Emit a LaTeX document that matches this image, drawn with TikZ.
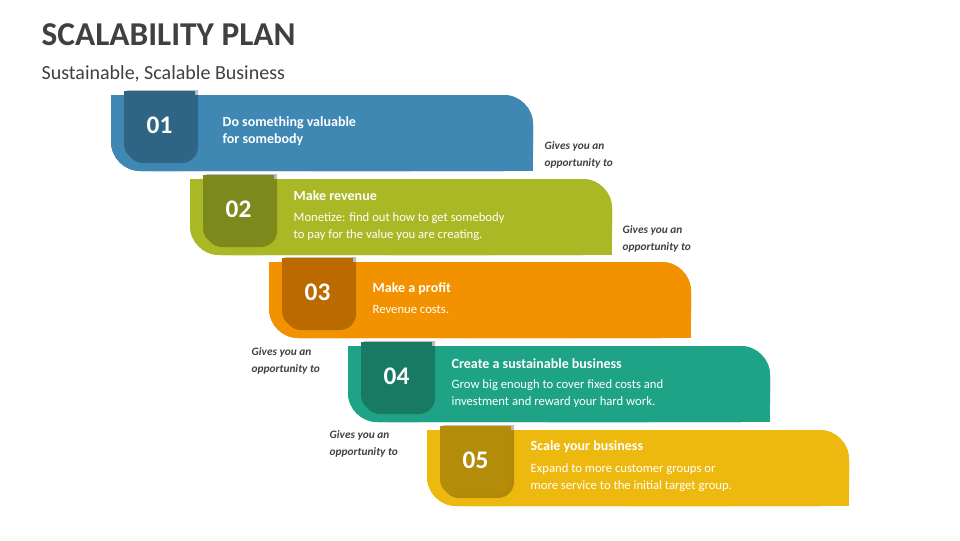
\documentclass[tikz,border=0pt]{standalone}
\usepackage{fontspec}
\setmainfont{Carlito}
\definecolor{c1}{HTML}{3F88B3}\definecolor{d1}{HTML}{2E6585}
\definecolor{c2}{HTML}{A9B824}\definecolor{d2}{HTML}{7C8A1D}
\definecolor{c3}{HTML}{F39200}\definecolor{d3}{HTML}{BB6A00}
\definecolor{c4}{HTML}{1FA386}\definecolor{d4}{HTML}{187A63}
\definecolor{c5}{HTML}{EEB90F}\definecolor{d5}{HTML}{B38C0A}
\definecolor{tt}{HTML}{404040}
\tikzset{
 numtxt/.style={text=white,font=\bfseries\fontsize{19}{19}\selectfont},
 head/.style={text=white,font=\bfseries\fontsize{10.5}{13}\selectfont,anchor=west,align=left},
 body/.style={text=white,font=\fontsize{9.5}{13}\selectfont,anchor=north west,align=left},
 gives/.style={text=tt,font=\bfseries\itshape\fontsize{8.5}{12.5}\selectfont,anchor=north west,align=left}
}
\newcommand{\band}[4]{% x y light dark
 \fill[#3,rounded corners=22pt] (#1,#2) -- (#1+422,#2) |- (#1+422,#2+76) -- (#1,#2+76) -- (#1,#2) ;
 \fill[#3] (#1,#2) -- (#1+300,#2) -- (#1+300,#2+76) -- (#1+40,#2+76) -- (#1,#2+40) --cycle;
 \fill[#3,rounded corners=22pt] (#1+200,#2) -- (#1+422,#2) -- (#1+422,#2+76) -- (#1+200,#2+76);
 \fill[#3,rounded corners=22pt] (#1,#2) -- (#1,#2+76) -- (#1+100,#2+76) -- (#1+100,#2);
 \fill[#3] (#1,#2) rectangle (#1+100,#2+30);
 \fill[#3] (#1+300,#2+40) rectangle (#1+422,#2+76);
 \fill[black,opacity=0.25,rounded corners=12pt] (#1+16,#2-5) -- (#1+16,#2+68) -- (#1+87,#2+68) [sharp corners] -- (#1+87,#2-5) -- cycle;
 \fill[#4,rounded corners=12pt] (#1+13,#2-4) -- (#1+13,#2+65) -- (#1+84,#2+65) [sharp corners] -- (#1+84,#2-4) -- cycle;
}
\begin{document}
\begin{tikzpicture}[x=0.75pt,y=-0.75pt]
\useasboundingbox (0,0) rectangle (960,540);
\node[anchor=west,text=tt,font=\bfseries\fontsize{25}{25}\selectfont] (title) at (37,35) {SCALABILITY PLAN};
\node[anchor=west,text=tt,font=\fontsize{15}{15}\selectfont] (sub) at (37,74) {Sustainable, Scalable Business};
\band{111}{95}{c1}{d1}
\band{190}{179}{c2}{d2}
\band{269}{262}{c3}{d3}
\band{348}{346}{c4}{d4}
\band{427}{430}{c5}{d5}
\node[numtxt] (n1) at (159.5,125) {01};
\node[numtxt] (n2) at (238.5,209) {02};
\node[numtxt] (n3) at (317.5,292) {03};
\node[numtxt] (n4) at (396.5,376) {04};
\node[numtxt] (n5) at (475.5,460) {05};
\node[head] (h1) at (218,131) {Do something valuable\\for somebody};
\node[head] (h2) at (289,196) {Make revenue};
\node[body] (b2) at (289,208) {Monetize: find out how to get somebody\\to pay for the value you are creating.};
\node[head] (h3) at (368,289) {Make a profit};
\node[body] (b3) at (368,301) {Revenue costs.};
\node[head] (h4) at (447,364) {Create a sustainable business};
\node[body] (b4) at (447,375) {Grow big enough to cover fixed costs and\\investment and reward your hard work.};
\node[head] (h5) at (526,447) {Scale your business};
\node[body] (b5) at (526,459) {Expand to more customer groups or\\more service to the initial target group.};
\node[gives] (g1) at (540,137) {Gives you an\\opportunity to};
\node[gives] (g2) at (618,221) {Gives you an\\opportunity to};
\node[gives] (g3) at (247,343) {Gives you an\\opportunity to};
\node[gives] (g4) at (325,426) {Gives you an\\opportunity to};
\end{tikzpicture}
\end{document}
